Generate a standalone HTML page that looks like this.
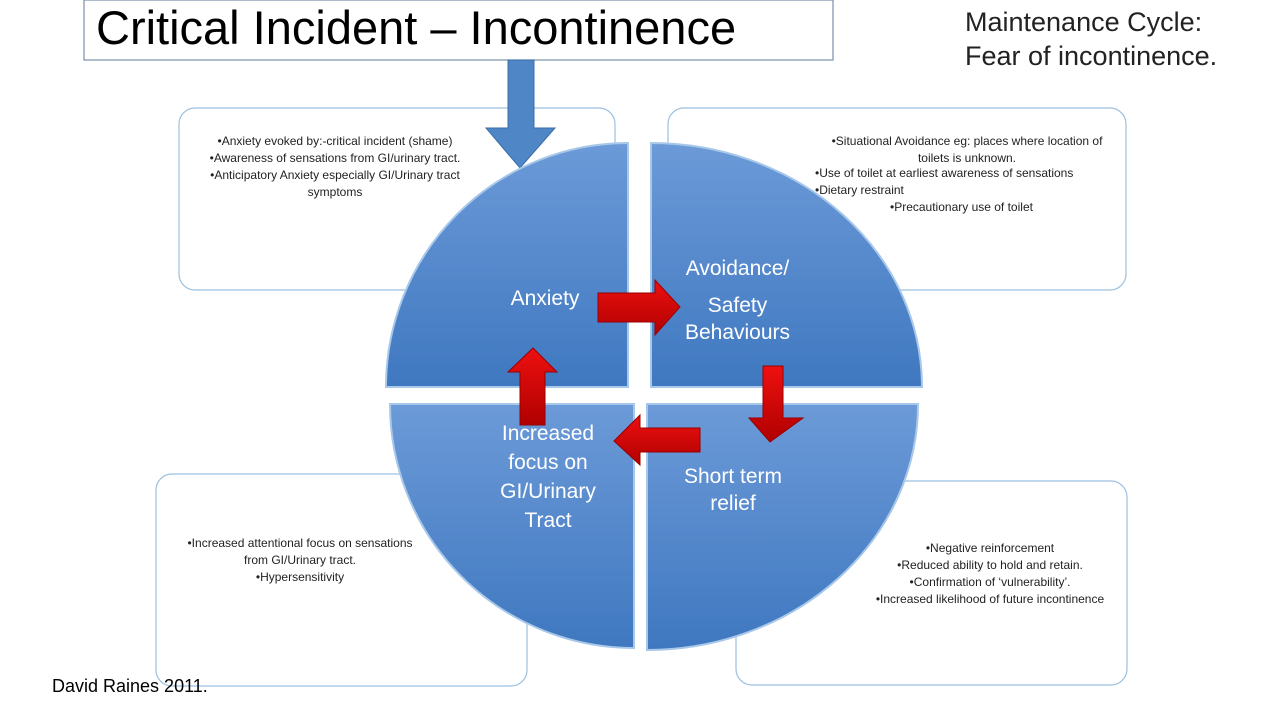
<!DOCTYPE html>
<html><head><meta charset="utf-8"><style>
body{margin:0;width:1280px;height:720px;background:#fff;position:relative;overflow:hidden;font-family:"Liberation Sans",sans-serif}
.t{position:absolute;font-size:12px;color:#222;line-height:17px;text-align:center;white-space:nowrap}
.l{position:absolute;font-size:12px;color:#222;white-space:nowrap}
.q{position:absolute;text-align:center;color:#fff;font-size:21px}
</style></head><body>
<svg width="1280" height="720" style="position:absolute;left:0;top:0">
<defs>
<linearGradient id="g" x1="0" y1="0" x2="0" y2="1"><stop offset="0" stop-color="#6c9ad8"/><stop offset="1" stop-color="#3f78c0"/></linearGradient>
<linearGradient id="r" x1="0" y1="0" x2="0" y2="1"><stop offset="0" stop-color="#ee1010"/><stop offset="1" stop-color="#b00000"/></linearGradient>
</defs>
<g fill="none" stroke="#9cc0e0" stroke-width="1.2">
<rect x="179" y="108" width="436" height="182" rx="16"/>
<rect x="668" y="108" width="458" height="182" rx="16"/>
<rect x="156" y="474" width="371" height="212" rx="16"/>
<rect x="736" y="481" width="391" height="204" rx="16"/>
</g>
<rect x="84" y="0" width="749" height="60" fill="#fff" stroke="#7a8fa8" stroke-width="1.2"/>
<polygon points="508,60 534,60 534,128 555,128 520,168 486,128 508,128" fill="#4f86c6" stroke="#3b6ea8"/>
<g fill="url(#g)" stroke="#a8c8ea" stroke-width="2">
<path d="M628,387 L386,387 A242,244 0 0 1 628,143 Z"/>
<path d="M651,387 L651,143 A271,244 0 0 1 922,387 Z"/>
<path d="M634,404 L634,648 A244,244 0 0 1 390,404 Z"/>
<path d="M647,404 L918,404 A271,246 0 0 1 647,650 Z"/>
</g>
<g fill="url(#r)" stroke="#900" stroke-width="1">
<polygon points="598,293 655,293 655,280 680,307 655,335 655,322 598,322"/>
<polygon points="763,366 783,366 783,418 803,418 770,442 749,418 763,418"/>
<polygon points="700,428 640,428 640,415 614,441 640,465 640,452 700,452"/>
<polygon points="520,425 520,372 508,372 533,348 557,372 545,372 545,425"/>
</g>
</svg>
<div style="position:absolute;left:96px;top:0px;font-size:47px;color:#000;white-space:nowrap">Critical Incident – Incontinence</div>
<div style="position:absolute;left:965px;top:5px;font-size:27px;color:#222;line-height:34px;white-space:nowrap">Maintenance Cycle:<br>Fear of incontinence.</div>
<div style="position:absolute;left:52px;top:676px;font-size:18px;color:#000">David Raines 2011.</div>
<div class="t" style="left:185px;top:133px;width:300px">•Anxiety evoked by:-critical incident (shame)<br>•Awareness of sensations from GI/urinary tract.<br>•Anticipatory Anxiety especially GI/Urinary tract<br>symptoms</div>
<div class="t" style="left:817px;top:133px;width:300px">•Situational Avoidance eg: places where location of<br>toilets is unknown.</div>
<div class="l" style="left:815px;top:166px">•Use of toilet at earliest awareness of sensations</div>
<div class="l" style="left:815px;top:183px">•Dietary restraint</div>
<div class="l" style="left:890px;top:200px">•Precautionary use of toilet</div>
<div class="t" style="left:150px;top:535px;width:300px">•Increased attentional focus on sensations<br>from GI/Urinary tract.<br>•Hypersensitivity</div>
<div class="t" style="left:840px;top:540px;width:300px">•Negative reinforcement<br>•Reduced ability to hold and retain.<br>•Confirmation of ‘vulnerability’.<br>•Increased likelihood of future incontinence</div>
<div class="q" style="left:470px;top:287px;width:150px">Anxiety</div>
<div class="q" style="left:660px;top:255px;width:155px;line-height:27px">Avoidance/<div style="margin-top:10px">Safety<br>Behaviours</div></div>
<div class="q" style="left:468px;top:419px;width:160px;line-height:29px">Increased<br>focus on<br>GI/Urinary<br>Tract</div>
<div class="q" style="left:658px;top:463px;width:150px;line-height:27px">Short term<br>relief</div>
</body></html>
